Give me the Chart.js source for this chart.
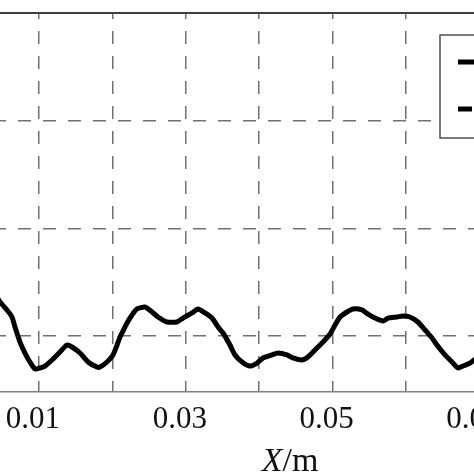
<!DOCTYPE html>
<html>
<head>
<meta charset="utf-8">
<script src="https://cdn.jsdelivr.net/npm/chart.js@4.4.1/dist/chart.umd.min.js"></script>
<style>
html,body{margin:0;padding:0;background:#fff;}
canvas{display:block;}
</style>
</head>
<body>
<canvas id="c" width="474" height="474"></canvas>
<script>
// ---- data ----
const xValues = [0.0042,0.00469,0.00564,0.00632,0.00673,0.00741,0.00809,0.00877,0.00946,0.01014,0.01082,0.01177,0.01286,0.01381,0.01450,0.01559,0.01668,0.01790,0.01831,0.01926,0.02008,0.02063,0.02104,0.02131,0.02199,0.02267,0.02335,0.02444,0.02540,0.02621,0.02744,0.02880,0.02962,0.03084,0.03166,0.03262,0.03357,0.03439,0.03507,0.03602,0.03670,0.03766,0.03875,0.03970,0.04052,0.04174,0.04256,0.04379,0.04460,0.04583,0.04665,0.04760,0.04869,0.04965,0.05033,0.05101,0.05196,0.05278,0.05401,0.05482,0.05578,0.05687,0.05755,0.05877,0.05959,0.06054,0.06163,0.06259,0.06354,0.06422,0.06531,0.06627,0.06708,0.06777,0.06872,0.06926,0.0698];
const series1 = [1.37,1.316,1.242,1.177,1.084,0.944,0.842,0.759,0.694,0.703,0.721,0.777,0.851,0.916,0.898,0.842,0.759,0.712,0.712,0.759,0.824,0.916,0.991,1.028,1.121,1.195,1.251,1.269,1.223,1.177,1.130,1.130,1.167,1.214,1.251,1.214,1.167,1.084,1.028,0.916,0.824,0.759,0.721,0.749,0.796,0.824,0.842,0.824,0.796,0.777,0.805,0.870,0.944,1.019,1.102,1.177,1.223,1.251,1.242,1.204,1.167,1.139,1.167,1.177,1.186,1.177,1.130,1.056,0.982,0.916,0.824,0.759,0.703,0.721,0.749,0.777,0.80];
const xGridTicks = [0.01,0.02,0.03,0.04,0.05,0.06];
const xTickLabels = ["0.01","0.03","0.05","0.07"];
const xTickLabelValues = [0.01,0.03,0.05,0.07];
const yGridTicks = [1,2,3];
const xRange = [0.004687, 0.069264];
const yRange = [0.48, 4];
const seriesNames = ["Series 1","Series 2"];
const xTitleItalic = "X";
const xTitleRest = "/m";

const GRID = '#707070';
const FONT = '"Liberation Serif", "Times New Roman", serif';

const overlay = {
  id: 'overlay',
  afterDraw(chart) {
    const ctx = chart.ctx, a = chart.chartArea, xs = chart.scales.x;
    ctx.save();
    // top frame line
    ctx.strokeStyle = '#404040'; ctx.lineWidth = 2; ctx.setLineDash([]);
    ctx.beginPath(); ctx.moveTo(a.left, a.top); ctx.lineTo(a.right, a.top); ctx.stroke();
    // tick labels
    ctx.fillStyle = '#111'; ctx.font = '31px ' + FONT;
    ctx.textAlign = 'center'; ctx.textBaseline = 'alphabetic';
    xTickLabels.forEach((t, i) => {
      const px = xs.getPixelForValue(xTickLabelValues[i]) - 6;
      ctx.fillText(t, px, 427.5);
    });
    // axis title
    ctx.textAlign = 'left';
    ctx.font = 'italic 34px ' + FONT;
    const w1 = ctx.measureText(xTitleItalic).width;
    ctx.font = '34px ' + FONT;
    const w2 = ctx.measureText(xTitleRest).width;
    const cx = 290, x0 = cx - (w1 + w2) / 2;
    ctx.font = 'italic 34px ' + FONT;
    ctx.fillText(xTitleItalic, x0, 471);
    ctx.font = '34px ' + FONT;
    ctx.fillText(xTitleRest, x0 + w1, 471);
    // legend box
    ctx.fillStyle = '#fff';
    ctx.fillRect(440, 35, 60, 103);
    ctx.strokeStyle = '#505050'; ctx.lineWidth = 1.5;
    ctx.strokeRect(440, 35, 60, 103);
    const ds = chart.data.datasets;
    const ys = [62, 109];
    ds.forEach((d, i) => {
      ctx.strokeStyle = d.borderColor; ctx.lineWidth = 5;
      ctx.setLineDash(d.borderDash || []);
      ctx.beginPath(); ctx.moveTo(458, ys[i]); ctx.lineTo(500, ys[i]); ctx.stroke();
      ctx.setLineDash([]);
      ctx.fillStyle = '#111'; ctx.font = '31px ' + FONT; ctx.textBaseline = 'middle';
      ctx.fillText(d.label, 510, ys[i]);
    });
    ctx.restore();
  }
};

new Chart(document.getElementById('c'), {
  type: 'line',
  data: {
    datasets: [
      { label: seriesNames[0], data: xValues.map((x, i) => ({x, y: series1[i]})),
        borderColor: '#000', borderWidth: 5, pointRadius: 0, tension: 0.2, fill: false },
      { label: seriesNames[1], data: [], borderColor: '#000', borderWidth: 5,
        borderDash: [14, 8], pointRadius: 0, fill: false }
    ]
  },
  options: {
    responsive: false,
    animation: false,
    layout: { padding: { top: 13, left: 0, right: 0, bottom: 0 } },
    plugins: { legend: { display: false }, tooltip: { enabled: false } },
    scales: {
      x: {
        type: 'linear', position: 'bottom', min: xRange[0], max: xRange[1],
        ticks: { display: false },
        afterBuildTicks: s => { s.ticks = xGridTicks.map(v => ({value: v})); },
        afterFit: s => { s.height = 82; },
        grid: { color: GRID, lineWidth: 1.5, drawTicks: false },
        border: { display: true, color: '#808080', width: 1.5, dash: [13, 12], dashOffset: 7 }
      },
      y: {
        type: 'linear', min: yRange[0], max: yRange[1],
        ticks: { display: false },
        afterBuildTicks: s => { s.ticks = yGridTicks.map(v => ({value: v})); },
        afterFit: s => { s.width = 0; },
        grid: { color: GRID, lineWidth: 1.5, drawTicks: false },
        border: { display: false, dash: [13, 12], dashOffset: 7 }
      }
    }
  },
  plugins: [overlay]
});
</script>
</body>
</html>
